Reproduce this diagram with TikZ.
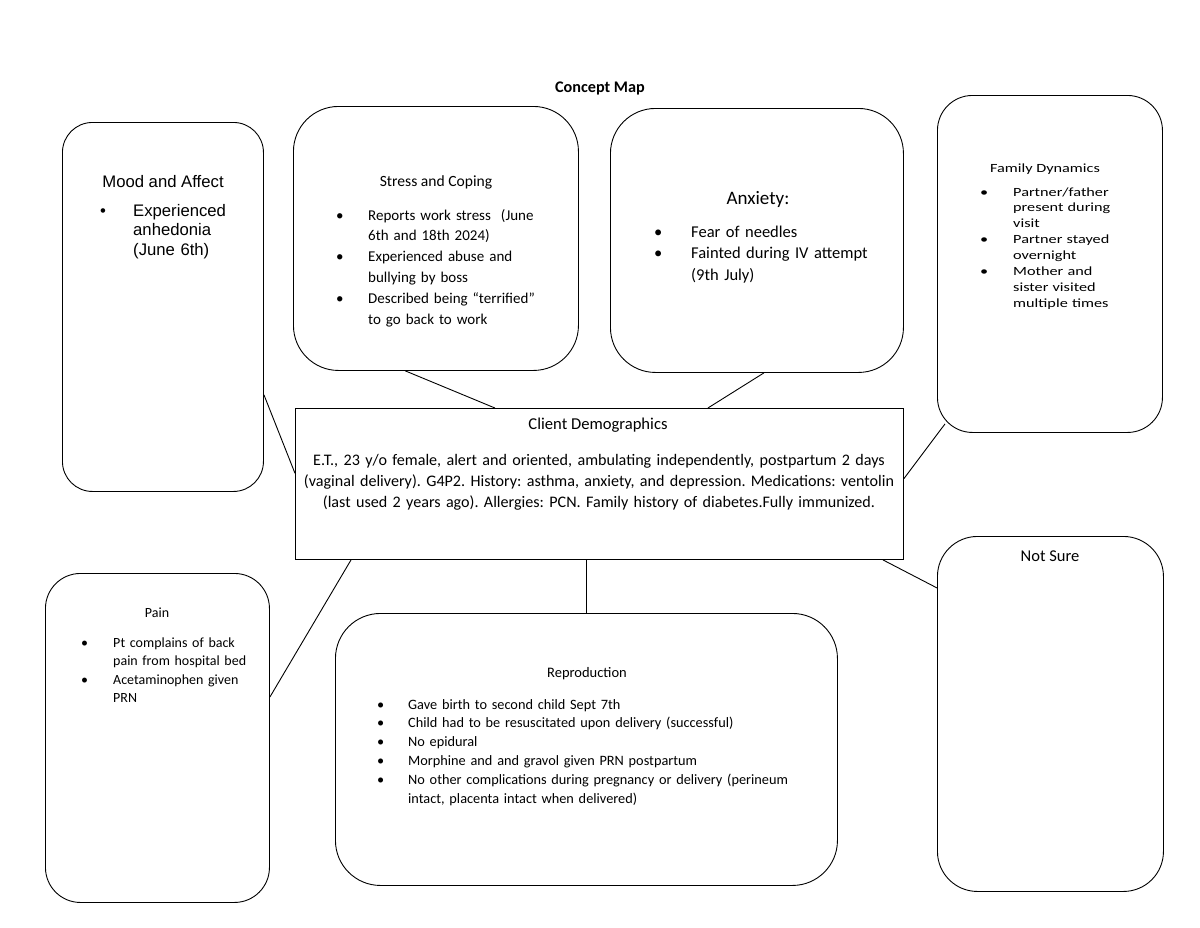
\documentclass[tikz,border=0pt]{standalone}
\usepackage{fontspec}
\setmainfont{Carlito}
\newfontfamily\arialfont{Liberation Sans}
\newfontfamily\widefont[FakeStretch=1.3]{Carlito}
\usetikzlibrary{positioning,calc}
\tikzset{
  topic/.style={draw, line width=0.9pt, rounded corners=#1, anchor=north west, inner sep=0pt},
  topic/.default=40pt,
  boxtitle/.style={inner sep=0pt, anchor=center},
  bullets/.style={anchor=base west, inner sep=0pt, align=left, text width=#1},
  link/.style={draw=black, line width=0.9pt},
}
\frenchspacing
\newlength{\bulletgap}
\setlength{\bulletgap}{32pt}
\newcommand{\brk}{\hfil\break}
\newcommand{\bitem}[1]{\hangindent=\bulletgap\hangafter=1\noindent\makebox[\bulletgap][l]{\textbullet}#1\par}
\newcommand{\fsz}[2]{\fontsize{#1}{#2}\selectfont}

\begin{document}
\begin{tikzpicture}[x=1pt, y=-1pt]
  \useasboundingbox (0,0) rectangle (1200,927);
  % title
  \node[boxtitle, font=\bfseries\fsz{16.2}{18}] (title) at (600,88) {Concept Map};
  % topic boxes
  \node[topic=30pt, minimum width=201pt, minimum height=369pt] (mood) at (62,122) {};
  \node[topic=45pt, minimum width=285pt, minimum height=264pt] (stress) at (293,106) {};
  \node[topic=45pt, minimum width=293pt, minimum height=264pt] (anxiety) at (610,108) {};
  \node[topic=35pt, minimum width=225pt, minimum height=337pt] (family) at (937,95) {};
  \node[draw, line width=0.9pt, anchor=north west, inner sep=0pt,
        minimum width=608pt, minimum height=151pt] (demo) at (295,408) {};
  \node[topic=35pt, minimum width=224pt, minimum height=329pt] (pain) at (45,573) {};
  \node[topic=45pt, minimum width=502pt, minimum height=272pt] (repro) at (335,613) {};
  \node[topic=40pt, minimum width=226pt, minimum height=355pt] (unsure) at (937,536) {};
  % box contents
  \node[boxtitle, font=\arialfont\fsz{16.7}{18}] (moodhead) at (163,182) {Mood and Affect};
  \node[bullets=160pt, font=\arialfont\fsz{16.7}{19.5},
        execute at begin node={\setlength{\bulletgap}{33pt}}] (moodlist) at (100,216)
    {\bitem{Experienced\brk anhedonia\brk (June 6th)}};
  \node[boxtitle, font=\fsz{15.6}{18}] (stresshead) at (436,182) {Stress and Coping};
  \node[bullets=240pt, font=\fsz{15}{20.8},
        execute at begin node={\setlength{\bulletgap}{32pt}}] (stresslist) at (336,220)
    {\bitem{Reports work stress~ (June\brk 6th and 18th 2024)}
     \bitem{Experienced abuse and\brk bullying by boss}
     \bitem{Described being “terrified”\brk to go back to work}};
  \node[boxtitle, font=\fsz{19}{22}] (anxhead) at (758,199) {Anxiety:};
  \node[bullets=240pt, font=\fsz{16.5}{21.5},
        execute at begin node={\setlength{\bulletgap}{37pt}}] (anxlist) at (654,237)
    {\bitem{Fear of needles}
     \bitem{Fainted during IV attempt\brk (9th July)}};
  \node[boxtitle, font=\widefont\fsz{12.5}{16}] (famhead) at (1045,169) {Family Dynamics};
  \node[bullets=170pt, font=\widefont\fsz{12.5}{15.9},
        execute at begin node={\setlength{\bulletgap}{33pt}}] (famlist) at (980,196)
    {\bitem{Partner/father\brk present during\brk visit}
     \bitem{Partner stayed\brk overnight}
     \bitem{Mother and\brk sister visited\brk multiple times}};
  \node[boxtitle, font=\fsz{16.6}{20}] (demohead) at (598,425) {Client Demographics};
  \node[anchor=base, inner sep=0pt, align=center, text width=640pt,
        font=\fsz{16.1}{21.2}] (demotext) at (599,465)
    {E.T., 23 y/o female, alert and oriented, ambulating independently, postpartum 2 days\\
     (vaginal delivery). G4P2. History: asthma, anxiety, and depression. Medications: ventolin\\
     (last used 2 years ago). Allergies: PCN. Family history of diabetes.Fully immunized.};
  \node[boxtitle, font=\fsz{14}{18}] (painhead) at (157,613) {Pain};
  \node[bullets=180pt, font=\fsz{14}{18.5},
        execute at begin node={\setlength{\bulletgap}{32pt}}] (painlist) at (81,647)
    {\bitem{Pt complains of back\brk pain from hospital bed}
     \bitem{Acetaminophen given\brk PRN}};
  \node[boxtitle, font=\fsz{14.5}{18}] (reprohead) at (587,674) {Reproduction};
  \node[bullets=440pt, font=\fsz{14.3}{18.8},
        execute at begin node={\setlength{\bulletgap}{31pt}}] (reprolist) at (377,709)
    {\bitem{Gave birth to second child Sept 7th}
     \bitem{Child had to be resuscitated upon delivery (successful)}
     \bitem{No epidural}
     \bitem{Morphine and and gravol given PRN postpartum}
     \bitem{No other complications during pregnancy or delivery (perineum\brk intact, placenta intact when delivered)}};
  \node[boxtitle, font=\fsz{16.5}{20}] (unsurehead) at (1050,556) {Not Sure};
  % links to the client box
  \draw[link] (mood.-41) -- (demo.178);
  \draw[link] (stress.-103) -- (demo.144);
  \draw[link] (anxiety.-87.6) -- (demo.35.5);
  \draw[link] ($(family.south west)+(8,-9)$) -- (demo.1.2);
  \draw[link] (demo.-163) -- (pain.20.8);
  \draw[link] (demo.-100.5) -- (demo.-100.5 |- repro.north);
  \draw[link] (demo.-15.4) -- (unsure.132);
\end{tikzpicture}
\end{document}
